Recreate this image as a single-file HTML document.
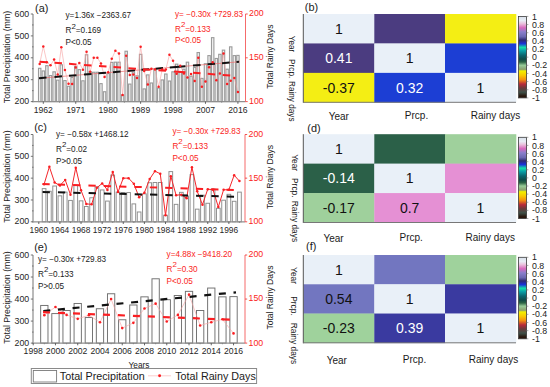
<!DOCTYPE html>
<html><head><meta charset="utf-8"><style>
html,body{margin:0;padding:0;background:#fff;}
body{width:550px;height:387px;overflow:hidden;}
svg{display:block;font-family:"Liberation Sans", sans-serif;}
</style></head><body>
<svg width="550" height="387" viewBox="0 0 550 387">
<rect x="0" y="0" width="550" height="387" fill="#fff"/>
<rect x="38.50" y="68.31" width="2.40" height="33.29" fill="#f2f2f2" stroke="#9a9a9a" stroke-width="1.1"/>
<rect x="42.10" y="70.94" width="2.40" height="30.66" fill="#f2f2f2" stroke="#9a9a9a" stroke-width="1.1"/>
<rect x="45.70" y="65.68" width="2.40" height="35.92" fill="#f2f2f2" stroke="#9a9a9a" stroke-width="1.1"/>
<rect x="49.31" y="75.54" width="2.40" height="26.06" fill="#f2f2f2" stroke="#9a9a9a" stroke-width="1.1"/>
<rect x="52.91" y="71.82" width="2.40" height="29.78" fill="#f2f2f2" stroke="#9a9a9a" stroke-width="1.1"/>
<rect x="56.52" y="80.14" width="2.40" height="21.46" fill="#f2f2f2" stroke="#9a9a9a" stroke-width="1.1"/>
<rect x="60.12" y="64.81" width="2.40" height="36.79" fill="#f2f2f2" stroke="#9a9a9a" stroke-width="1.1"/>
<rect x="63.72" y="80.58" width="2.40" height="21.02" fill="#f2f2f2" stroke="#9a9a9a" stroke-width="1.1"/>
<rect x="67.33" y="86.27" width="2.40" height="15.33" fill="#f2f2f2" stroke="#9a9a9a" stroke-width="1.1"/>
<rect x="70.93" y="77.51" width="2.40" height="24.09" fill="#f2f2f2" stroke="#9a9a9a" stroke-width="1.1"/>
<rect x="74.54" y="66.56" width="2.40" height="35.04" fill="#f2f2f2" stroke="#9a9a9a" stroke-width="1.1"/>
<rect x="78.14" y="69.63" width="2.40" height="31.97" fill="#f2f2f2" stroke="#9a9a9a" stroke-width="1.1"/>
<rect x="81.74" y="80.80" width="2.40" height="20.80" fill="#f2f2f2" stroke="#9a9a9a" stroke-width="1.1"/>
<rect x="85.35" y="54.73" width="2.40" height="46.87" fill="#f2f2f2" stroke="#9a9a9a" stroke-width="1.1"/>
<rect x="88.95" y="71.82" width="2.40" height="29.78" fill="#f2f2f2" stroke="#9a9a9a" stroke-width="1.1"/>
<rect x="92.56" y="72.25" width="2.40" height="29.35" fill="#f2f2f2" stroke="#9a9a9a" stroke-width="1.1"/>
<rect x="96.16" y="72.25" width="2.40" height="29.35" fill="#f2f2f2" stroke="#9a9a9a" stroke-width="1.1"/>
<rect x="99.76" y="83.64" width="2.40" height="17.96" fill="#f2f2f2" stroke="#9a9a9a" stroke-width="1.1"/>
<rect x="103.37" y="91.74" width="2.40" height="9.86" fill="#f2f2f2" stroke="#9a9a9a" stroke-width="1.1"/>
<rect x="106.97" y="73.57" width="2.40" height="28.03" fill="#f2f2f2" stroke="#9a9a9a" stroke-width="1.1"/>
<rect x="110.58" y="62.40" width="2.40" height="39.20" fill="#f2f2f2" stroke="#9a9a9a" stroke-width="1.1"/>
<rect x="114.18" y="62.18" width="2.40" height="39.42" fill="#f2f2f2" stroke="#9a9a9a" stroke-width="1.1"/>
<rect x="117.78" y="62.18" width="2.40" height="39.42" fill="#f2f2f2" stroke="#9a9a9a" stroke-width="1.1"/>
<rect x="121.39" y="95.03" width="2.40" height="6.57" fill="#f2f2f2" stroke="#9a9a9a" stroke-width="1.1"/>
<rect x="124.99" y="51.23" width="2.40" height="50.37" fill="#f2f2f2" stroke="#9a9a9a" stroke-width="1.1"/>
<rect x="128.60" y="84.08" width="2.40" height="17.52" fill="#f2f2f2" stroke="#9a9a9a" stroke-width="1.1"/>
<rect x="132.20" y="72.03" width="2.40" height="29.56" fill="#f2f2f2" stroke="#9a9a9a" stroke-width="1.1"/>
<rect x="135.80" y="75.76" width="2.40" height="25.84" fill="#f2f2f2" stroke="#9a9a9a" stroke-width="1.1"/>
<rect x="139.41" y="54.30" width="2.40" height="47.30" fill="#f2f2f2" stroke="#9a9a9a" stroke-width="1.1"/>
<rect x="143.01" y="88.90" width="2.40" height="12.70" fill="#f2f2f2" stroke="#9a9a9a" stroke-width="1.1"/>
<rect x="146.62" y="74.88" width="2.40" height="26.72" fill="#f2f2f2" stroke="#9a9a9a" stroke-width="1.1"/>
<rect x="150.22" y="82.98" width="2.40" height="18.61" fill="#f2f2f2" stroke="#9a9a9a" stroke-width="1.1"/>
<rect x="153.82" y="68.75" width="2.40" height="32.85" fill="#f2f2f2" stroke="#9a9a9a" stroke-width="1.1"/>
<rect x="157.43" y="88.02" width="2.40" height="13.58" fill="#f2f2f2" stroke="#9a9a9a" stroke-width="1.1"/>
<rect x="161.03" y="79.92" width="2.40" height="21.68" fill="#f2f2f2" stroke="#9a9a9a" stroke-width="1.1"/>
<rect x="164.64" y="74.01" width="2.40" height="27.59" fill="#f2f2f2" stroke="#9a9a9a" stroke-width="1.1"/>
<rect x="168.24" y="81.01" width="2.40" height="20.59" fill="#f2f2f2" stroke="#9a9a9a" stroke-width="1.1"/>
<rect x="171.84" y="71.82" width="2.40" height="29.78" fill="#f2f2f2" stroke="#9a9a9a" stroke-width="1.1"/>
<rect x="175.45" y="64.15" width="2.40" height="37.45" fill="#f2f2f2" stroke="#9a9a9a" stroke-width="1.1"/>
<rect x="179.05" y="72.25" width="2.40" height="29.35" fill="#f2f2f2" stroke="#9a9a9a" stroke-width="1.1"/>
<rect x="182.66" y="69.19" width="2.40" height="32.41" fill="#f2f2f2" stroke="#9a9a9a" stroke-width="1.1"/>
<rect x="186.26" y="62.18" width="2.40" height="39.42" fill="#f2f2f2" stroke="#9a9a9a" stroke-width="1.1"/>
<rect x="189.86" y="76.20" width="2.40" height="25.40" fill="#f2f2f2" stroke="#9a9a9a" stroke-width="1.1"/>
<rect x="193.47" y="67.44" width="2.40" height="34.16" fill="#f2f2f2" stroke="#9a9a9a" stroke-width="1.1"/>
<rect x="197.07" y="52.54" width="2.40" height="49.06" fill="#f2f2f2" stroke="#9a9a9a" stroke-width="1.1"/>
<rect x="200.68" y="78.39" width="2.40" height="23.21" fill="#f2f2f2" stroke="#9a9a9a" stroke-width="1.1"/>
<rect x="204.28" y="63.71" width="2.40" height="37.89" fill="#f2f2f2" stroke="#9a9a9a" stroke-width="1.1"/>
<rect x="207.88" y="55.61" width="2.40" height="45.99" fill="#f2f2f2" stroke="#9a9a9a" stroke-width="1.1"/>
<rect x="211.49" y="37.65" width="2.40" height="63.95" fill="#f2f2f2" stroke="#9a9a9a" stroke-width="1.1"/>
<rect x="215.09" y="58.46" width="2.40" height="43.14" fill="#f2f2f2" stroke="#9a9a9a" stroke-width="1.1"/>
<rect x="218.70" y="54.30" width="2.40" height="47.30" fill="#f2f2f2" stroke="#9a9a9a" stroke-width="1.1"/>
<rect x="222.30" y="50.13" width="2.40" height="51.46" fill="#f2f2f2" stroke="#9a9a9a" stroke-width="1.1"/>
<rect x="225.90" y="69.19" width="2.40" height="32.41" fill="#f2f2f2" stroke="#9a9a9a" stroke-width="1.1"/>
<rect x="229.51" y="46.85" width="2.40" height="54.75" fill="#f2f2f2" stroke="#9a9a9a" stroke-width="1.1"/>
<rect x="233.11" y="55.61" width="2.40" height="45.99" fill="#f2f2f2" stroke="#9a9a9a" stroke-width="1.1"/>
<rect x="236.72" y="55.39" width="2.40" height="46.21" fill="#f2f2f2" stroke="#9a9a9a" stroke-width="1.1"/>
<line x1="39.20" y1="78.30" x2="240.00" y2="61.70" stroke="#f26a6a" stroke-width="0.7" />
<polyline points="39.70,63.93 43.30,46.41 46.90,62.18 50.51,65.25 54.11,59.55 57.72,74.44 61.32,47.29 64.92,70.06 68.53,83.64 72.13,84.08 75.74,67.44 79.34,63.06 82.94,69.63 86.55,51.67 90.15,71.82 93.76,57.80 97.36,57.80 100.96,63.41 104.57,77.07 108.17,72.34 111.78,58.68 115.38,50.79 118.98,53.42 122.59,95.03 126.19,55.79 129.80,74.88 133.40,74.44 137.00,77.95 140.61,46.76 144.21,70.94 147.82,84.43 151.42,68.84 155.02,69.45 158.63,86.71 162.23,69.45 165.84,69.45 169.44,54.82 173.04,60.78 176.65,73.83 180.25,65.68 183.86,73.57 187.46,77.51 191.06,73.92 194.67,80.93 198.27,57.80 201.88,86.71 205.48,81.45 209.08,67.17 212.69,62.36 216.29,80.14 219.90,73.57 223.50,53.42 227.10,84.08 230.71,80.84 234.31,77.95 237.92,91.96" fill="none" stroke="#f7a0a0" stroke-width="0.6"/>
<line x1="39.00" y1="78.23" x2="46.50" y2="77.61" stroke="#111" stroke-width="2.0" />
<line x1="54.50" y1="76.95" x2="62.00" y2="76.33" stroke="#111" stroke-width="2.0" />
<line x1="69.00" y1="75.76" x2="76.50" y2="75.14" stroke="#111" stroke-width="2.0" />
<line x1="84.00" y1="74.52" x2="91.50" y2="73.90" stroke="#111" stroke-width="2.0" />
<line x1="98.50" y1="73.33" x2="106.00" y2="72.71" stroke="#111" stroke-width="2.0" />
<line x1="113.00" y1="72.13" x2="120.50" y2="71.52" stroke="#111" stroke-width="2.0" />
<line x1="127.50" y1="70.94" x2="135.00" y2="70.32" stroke="#111" stroke-width="2.0" />
<line x1="141.50" y1="69.79" x2="149.00" y2="69.17" stroke="#111" stroke-width="2.0" />
<line x1="155.50" y1="68.63" x2="163.00" y2="68.01" stroke="#111" stroke-width="2.0" />
<line x1="169.80" y1="67.45" x2="185.40" y2="66.17" stroke="#111" stroke-width="2.0" />
<line x1="193.00" y1="65.54" x2="200.50" y2="64.92" stroke="#111" stroke-width="2.0" />
<line x1="207.50" y1="64.35" x2="215.00" y2="63.73" stroke="#111" stroke-width="2.0" />
<line x1="222.00" y1="63.15" x2="229.60" y2="62.53" stroke="#111" stroke-width="2.0" />
<line x1="236.50" y1="61.96" x2="239.00" y2="61.75" stroke="#111" stroke-width="2.0" />
<line x1="39.50" y1="61.75" x2="47.00" y2="62.29" stroke="#fa1e22" stroke-width="2.0" />
<line x1="54.50" y1="62.83" x2="62.00" y2="63.37" stroke="#fa1e22" stroke-width="2.0" />
<line x1="69.00" y1="63.87" x2="76.50" y2="64.41" stroke="#fa1e22" stroke-width="2.0" />
<line x1="84.00" y1="64.95" x2="91.50" y2="65.49" stroke="#fa1e22" stroke-width="2.0" />
<line x1="99.00" y1="66.03" x2="106.50" y2="66.57" stroke="#fa1e22" stroke-width="2.0" />
<line x1="113.50" y1="67.08" x2="121.00" y2="67.62" stroke="#fa1e22" stroke-width="2.0" />
<line x1="128.50" y1="68.16" x2="136.00" y2="68.70" stroke="#fa1e22" stroke-width="2.0" />
<line x1="143.00" y1="69.20" x2="150.50" y2="69.74" stroke="#fa1e22" stroke-width="2.0" />
<line x1="158.50" y1="70.32" x2="166.00" y2="70.86" stroke="#fa1e22" stroke-width="2.0" />
<line x1="174.00" y1="71.43" x2="185.40" y2="72.26" stroke="#fa1e22" stroke-width="2.0" />
<line x1="193.00" y1="72.80" x2="200.50" y2="73.34" stroke="#fa1e22" stroke-width="2.0" />
<line x1="207.70" y1="73.86" x2="215.20" y2="74.40" stroke="#fa1e22" stroke-width="2.0" />
<line x1="222.70" y1="74.94" x2="230.20" y2="75.48" stroke="#fa1e22" stroke-width="2.0" />
<circle cx="39.70" cy="63.93" r="1.25" fill="#fa1e22"/>
<circle cx="43.30" cy="46.41" r="1.25" fill="#fa1e22"/>
<circle cx="46.90" cy="62.18" r="1.25" fill="#fa1e22"/>
<circle cx="50.51" cy="65.25" r="1.25" fill="#fa1e22"/>
<circle cx="54.11" cy="59.55" r="1.25" fill="#fa1e22"/>
<circle cx="57.72" cy="74.44" r="1.25" fill="#fa1e22"/>
<circle cx="61.32" cy="47.29" r="1.25" fill="#fa1e22"/>
<circle cx="64.92" cy="70.06" r="1.25" fill="#fa1e22"/>
<circle cx="68.53" cy="83.64" r="1.25" fill="#fa1e22"/>
<circle cx="72.13" cy="84.08" r="1.25" fill="#fa1e22"/>
<circle cx="75.74" cy="67.44" r="1.25" fill="#fa1e22"/>
<circle cx="79.34" cy="63.06" r="1.25" fill="#fa1e22"/>
<circle cx="82.94" cy="69.63" r="1.25" fill="#fa1e22"/>
<circle cx="86.55" cy="51.67" r="1.25" fill="#fa1e22"/>
<circle cx="90.15" cy="71.82" r="1.25" fill="#fa1e22"/>
<circle cx="93.76" cy="57.80" r="1.25" fill="#fa1e22"/>
<circle cx="97.36" cy="57.80" r="1.25" fill="#fa1e22"/>
<circle cx="100.96" cy="63.41" r="1.25" fill="#fa1e22"/>
<circle cx="104.57" cy="77.07" r="1.25" fill="#fa1e22"/>
<circle cx="108.17" cy="72.34" r="1.25" fill="#fa1e22"/>
<circle cx="111.78" cy="58.68" r="1.25" fill="#fa1e22"/>
<circle cx="115.38" cy="50.79" r="1.25" fill="#fa1e22"/>
<circle cx="118.98" cy="53.42" r="1.25" fill="#fa1e22"/>
<circle cx="122.59" cy="95.03" r="1.25" fill="#fa1e22"/>
<circle cx="126.19" cy="55.79" r="1.25" fill="#fa1e22"/>
<circle cx="129.80" cy="74.88" r="1.25" fill="#fa1e22"/>
<circle cx="133.40" cy="74.44" r="1.25" fill="#fa1e22"/>
<circle cx="137.00" cy="77.95" r="1.25" fill="#fa1e22"/>
<circle cx="140.61" cy="46.76" r="1.25" fill="#fa1e22"/>
<circle cx="144.21" cy="70.94" r="1.25" fill="#fa1e22"/>
<circle cx="147.82" cy="84.43" r="1.25" fill="#fa1e22"/>
<circle cx="151.42" cy="68.84" r="1.25" fill="#fa1e22"/>
<circle cx="155.02" cy="69.45" r="1.25" fill="#fa1e22"/>
<circle cx="158.63" cy="86.71" r="1.25" fill="#fa1e22"/>
<circle cx="162.23" cy="69.45" r="1.25" fill="#fa1e22"/>
<circle cx="165.84" cy="69.45" r="1.25" fill="#fa1e22"/>
<circle cx="169.44" cy="54.82" r="1.25" fill="#fa1e22"/>
<circle cx="173.04" cy="60.78" r="1.25" fill="#fa1e22"/>
<circle cx="176.65" cy="73.83" r="1.25" fill="#fa1e22"/>
<circle cx="180.25" cy="65.68" r="1.25" fill="#fa1e22"/>
<circle cx="183.86" cy="73.57" r="1.25" fill="#fa1e22"/>
<circle cx="187.46" cy="77.51" r="1.25" fill="#fa1e22"/>
<circle cx="191.06" cy="73.92" r="1.25" fill="#fa1e22"/>
<circle cx="194.67" cy="80.93" r="1.25" fill="#fa1e22"/>
<circle cx="198.27" cy="57.80" r="1.25" fill="#fa1e22"/>
<circle cx="201.88" cy="86.71" r="1.25" fill="#fa1e22"/>
<circle cx="205.48" cy="81.45" r="1.25" fill="#fa1e22"/>
<circle cx="209.08" cy="67.17" r="1.25" fill="#fa1e22"/>
<circle cx="212.69" cy="62.36" r="1.25" fill="#fa1e22"/>
<circle cx="216.29" cy="80.14" r="1.25" fill="#fa1e22"/>
<circle cx="219.90" cy="73.57" r="1.25" fill="#fa1e22"/>
<circle cx="223.50" cy="53.42" r="1.25" fill="#fa1e22"/>
<circle cx="227.10" cy="84.08" r="1.25" fill="#fa1e22"/>
<circle cx="230.71" cy="80.84" r="1.25" fill="#fa1e22"/>
<circle cx="234.31" cy="77.95" r="1.25" fill="#fa1e22"/>
<circle cx="237.92" cy="91.96" r="1.25" fill="#fa1e22"/>
<line x1="33.00" y1="14.00" x2="33.00" y2="102.20" stroke="#959595" stroke-width="1.3" />
<line x1="32.40" y1="101.60" x2="245.50" y2="101.60" stroke="#8f8f8f" stroke-width="1.2" />
<line x1="245.50" y1="14.00" x2="245.50" y2="101.60" stroke="#f45a5a" stroke-width="0.9" />
<line x1="30.80" y1="14.00" x2="33.00" y2="14.00" stroke="#666" stroke-width="0.9" />
<text x="29.20" y="16.60" font-size="8.8" fill="#262626" text-anchor="end" >600</text>
<line x1="30.80" y1="35.90" x2="33.00" y2="35.90" stroke="#666" stroke-width="0.9" />
<text x="29.20" y="38.50" font-size="8.8" fill="#262626" text-anchor="end" >500</text>
<line x1="30.80" y1="57.80" x2="33.00" y2="57.80" stroke="#666" stroke-width="0.9" />
<text x="29.20" y="60.40" font-size="8.8" fill="#262626" text-anchor="end" >400</text>
<line x1="30.80" y1="79.70" x2="33.00" y2="79.70" stroke="#666" stroke-width="0.9" />
<text x="29.20" y="82.30" font-size="8.8" fill="#262626" text-anchor="end" >300</text>
<line x1="30.80" y1="101.60" x2="33.00" y2="101.60" stroke="#666" stroke-width="0.9" />
<text x="29.20" y="104.20" font-size="8.8" fill="#262626" text-anchor="end" >200</text>
<line x1="32.00" y1="24.95" x2="33.50" y2="24.95" stroke="#666" stroke-width="0.8" />
<line x1="32.00" y1="46.85" x2="33.50" y2="46.85" stroke="#666" stroke-width="0.8" />
<line x1="32.00" y1="68.75" x2="33.50" y2="68.75" stroke="#666" stroke-width="0.8" />
<line x1="32.00" y1="90.65" x2="33.50" y2="90.65" stroke="#666" stroke-width="0.8" />
<line x1="245.50" y1="14.00" x2="247.70" y2="14.00" stroke="#f44040" stroke-width="0.9" />
<text x="249.10" y="16.40" font-size="8.75" fill="#fa1e22" text-anchor="start" >200</text>
<line x1="245.50" y1="57.80" x2="247.70" y2="57.80" stroke="#f44040" stroke-width="0.9" />
<text x="249.10" y="60.20" font-size="8.75" fill="#fa1e22" text-anchor="start" >150</text>
<line x1="245.50" y1="101.60" x2="247.70" y2="101.60" stroke="#f44040" stroke-width="0.9" />
<text x="249.10" y="104.00" font-size="8.75" fill="#fa1e22" text-anchor="start" >100</text>
<line x1="43.30" y1="101.60" x2="43.30" y2="103.80" stroke="#555" stroke-width="0.9" />
<text x="43.30" y="112.50" font-size="8.6" fill="#262626" text-anchor="middle" >1962</text>
<line x1="75.74" y1="101.60" x2="75.74" y2="103.80" stroke="#555" stroke-width="0.9" />
<text x="75.74" y="112.50" font-size="8.6" fill="#262626" text-anchor="middle" >1971</text>
<line x1="108.17" y1="101.60" x2="108.17" y2="103.80" stroke="#555" stroke-width="0.9" />
<text x="108.17" y="112.50" font-size="8.6" fill="#262626" text-anchor="middle" >1980</text>
<line x1="140.61" y1="101.60" x2="140.61" y2="103.80" stroke="#555" stroke-width="0.9" />
<text x="140.61" y="112.50" font-size="8.6" fill="#262626" text-anchor="middle" >1989</text>
<line x1="173.04" y1="101.60" x2="173.04" y2="103.80" stroke="#555" stroke-width="0.9" />
<text x="173.04" y="112.50" font-size="8.6" fill="#262626" text-anchor="middle" >1998</text>
<line x1="205.48" y1="101.60" x2="205.48" y2="103.80" stroke="#555" stroke-width="0.9" />
<text x="205.48" y="112.50" font-size="8.6" fill="#262626" text-anchor="middle" >2007</text>
<line x1="237.92" y1="101.60" x2="237.92" y2="103.80" stroke="#555" stroke-width="0.9" />
<text x="237.92" y="112.50" font-size="8.6" fill="#262626" text-anchor="middle" >2016</text>
<line x1="59.52" y1="101.60" x2="59.52" y2="102.80" stroke="#777" stroke-width="0.7" />
<line x1="91.95" y1="101.60" x2="91.95" y2="102.80" stroke="#777" stroke-width="0.7" />
<line x1="124.39" y1="101.60" x2="124.39" y2="102.80" stroke="#777" stroke-width="0.7" />
<line x1="156.83" y1="101.60" x2="156.83" y2="102.80" stroke="#777" stroke-width="0.7" />
<line x1="189.26" y1="101.60" x2="189.26" y2="102.80" stroke="#777" stroke-width="0.7" />
<line x1="221.70" y1="101.60" x2="221.70" y2="102.80" stroke="#777" stroke-width="0.7" />
<text x="35.00" y="11.80" font-size="10.9" fill="#1a1a1a" text-anchor="start" >(a)</text>
<text x="0.00" y="0.00" font-size="8.8" fill="#222" text-anchor="middle" transform="translate(9.90,57.00) rotate(-90)">Total Precipitation (mm)</text>
<text x="0.00" y="0.00" font-size="8.55" fill="#222" text-anchor="middle" transform="translate(272.80,56.60) rotate(-90)">Total Rainy Days</text>
<text x="65.50" y="17.70" font-size="8.2" fill="#1a1a1a" text-anchor="start" >y=1.36x −2363.67</text>
<text x="65.50" y="33.30" font-size="8.2" fill="#1a1a1a" text-anchor="start" >R<tspan dy="-4.8" font-size="7.9">2</tspan><tspan dy="4.8">=0.169</tspan></text>
<text x="65.50" y="44.90" font-size="8.2" fill="#1a1a1a" text-anchor="start" >P&lt;0.05</text>
<text x="175.00" y="16.80" font-size="8.2" fill="#fa1e22" text-anchor="start" >y= −0.30x +729.83</text>
<text x="175.00" y="31.90" font-size="8.2" fill="#fa1e22" text-anchor="start" >R<tspan dy="-4.8" font-size="7.9">2</tspan><tspan dy="4.8">=0.133</tspan></text>
<text x="175.00" y="43.20" font-size="8.2" fill="#fa1e22" text-anchor="start" >P&lt;0.05</text>
<rect x="42.23" y="188.63" width="3.70" height="33.17" fill="#ffffff" stroke="#8c8c8c" stroke-width="0.95"/>
<rect x="47.51" y="191.25" width="3.70" height="30.56" fill="#ffffff" stroke="#8c8c8c" stroke-width="0.95"/>
<rect x="52.79" y="186.01" width="3.70" height="35.79" fill="#ffffff" stroke="#8c8c8c" stroke-width="0.95"/>
<rect x="58.07" y="195.83" width="3.70" height="25.97" fill="#ffffff" stroke="#8c8c8c" stroke-width="0.95"/>
<rect x="63.35" y="192.12" width="3.70" height="29.68" fill="#ffffff" stroke="#8c8c8c" stroke-width="0.95"/>
<rect x="68.63" y="200.41" width="3.70" height="21.39" fill="#ffffff" stroke="#8c8c8c" stroke-width="0.95"/>
<rect x="73.91" y="185.13" width="3.70" height="36.67" fill="#ffffff" stroke="#8c8c8c" stroke-width="0.95"/>
<rect x="79.19" y="200.85" width="3.70" height="20.95" fill="#ffffff" stroke="#8c8c8c" stroke-width="0.95"/>
<rect x="84.47" y="206.52" width="3.70" height="15.28" fill="#ffffff" stroke="#8c8c8c" stroke-width="0.95"/>
<rect x="89.75" y="197.79" width="3.70" height="24.01" fill="#ffffff" stroke="#8c8c8c" stroke-width="0.95"/>
<rect x="95.03" y="186.88" width="3.70" height="34.92" fill="#ffffff" stroke="#8c8c8c" stroke-width="0.95"/>
<rect x="100.31" y="189.94" width="3.70" height="31.86" fill="#ffffff" stroke="#8c8c8c" stroke-width="0.95"/>
<rect x="105.59" y="201.07" width="3.70" height="20.73" fill="#ffffff" stroke="#8c8c8c" stroke-width="0.95"/>
<rect x="110.87" y="175.09" width="3.70" height="46.71" fill="#ffffff" stroke="#8c8c8c" stroke-width="0.95"/>
<rect x="116.15" y="192.12" width="3.70" height="29.68" fill="#ffffff" stroke="#8c8c8c" stroke-width="0.95"/>
<rect x="121.43" y="192.55" width="3.70" height="29.25" fill="#ffffff" stroke="#8c8c8c" stroke-width="0.95"/>
<rect x="126.71" y="192.55" width="3.70" height="29.25" fill="#ffffff" stroke="#8c8c8c" stroke-width="0.95"/>
<rect x="131.99" y="203.90" width="3.70" height="17.90" fill="#ffffff" stroke="#8c8c8c" stroke-width="0.95"/>
<rect x="137.27" y="211.98" width="3.70" height="9.82" fill="#ffffff" stroke="#8c8c8c" stroke-width="0.95"/>
<rect x="142.55" y="193.86" width="3.70" height="27.94" fill="#ffffff" stroke="#8c8c8c" stroke-width="0.95"/>
<rect x="147.83" y="182.73" width="3.70" height="39.07" fill="#ffffff" stroke="#8c8c8c" stroke-width="0.95"/>
<rect x="153.11" y="182.52" width="3.70" height="39.28" fill="#ffffff" stroke="#8c8c8c" stroke-width="0.95"/>
<rect x="158.39" y="182.52" width="3.70" height="39.28" fill="#ffffff" stroke="#8c8c8c" stroke-width="0.95"/>
<rect x="163.67" y="215.25" width="3.70" height="6.55" fill="#ffffff" stroke="#8c8c8c" stroke-width="0.95"/>
<rect x="168.95" y="171.60" width="3.70" height="50.20" fill="#ffffff" stroke="#8c8c8c" stroke-width="0.95"/>
<rect x="174.23" y="204.34" width="3.70" height="17.46" fill="#ffffff" stroke="#8c8c8c" stroke-width="0.95"/>
<rect x="179.51" y="192.34" width="3.70" height="29.46" fill="#ffffff" stroke="#8c8c8c" stroke-width="0.95"/>
<rect x="184.79" y="196.05" width="3.70" height="25.75" fill="#ffffff" stroke="#8c8c8c" stroke-width="0.95"/>
<rect x="190.07" y="174.66" width="3.70" height="47.14" fill="#ffffff" stroke="#8c8c8c" stroke-width="0.95"/>
<rect x="195.35" y="209.14" width="3.70" height="12.66" fill="#ffffff" stroke="#8c8c8c" stroke-width="0.95"/>
<rect x="200.63" y="195.17" width="3.70" height="26.63" fill="#ffffff" stroke="#8c8c8c" stroke-width="0.95"/>
<rect x="205.91" y="203.25" width="3.70" height="18.55" fill="#ffffff" stroke="#8c8c8c" stroke-width="0.95"/>
<rect x="211.19" y="189.06" width="3.70" height="32.74" fill="#ffffff" stroke="#8c8c8c" stroke-width="0.95"/>
<rect x="216.47" y="208.27" width="3.70" height="13.53" fill="#ffffff" stroke="#8c8c8c" stroke-width="0.95"/>
<rect x="221.75" y="200.19" width="3.70" height="21.61" fill="#ffffff" stroke="#8c8c8c" stroke-width="0.95"/>
<rect x="227.03" y="194.30" width="3.70" height="27.50" fill="#ffffff" stroke="#8c8c8c" stroke-width="0.95"/>
<rect x="232.31" y="201.28" width="3.70" height="20.52" fill="#ffffff" stroke="#8c8c8c" stroke-width="0.95"/>
<rect x="237.59" y="192.12" width="3.70" height="29.68" fill="#ffffff" stroke="#8c8c8c" stroke-width="0.95"/>
<polyline points="44.08,184.26 49.36,166.80 54.64,182.52 59.92,185.57 65.20,179.90 70.48,194.74 75.76,167.67 81.04,190.37 86.32,203.90 91.60,204.34 96.88,187.75 102.16,183.39 107.44,189.94 112.72,172.04 118.00,192.12 123.28,178.15 128.56,178.15 133.84,183.74 139.12,197.36 144.40,192.64 149.68,179.02 154.96,171.17 160.24,173.78 165.52,215.25 170.80,176.14 176.08,195.17 181.36,194.74 186.64,198.23 191.92,167.15 197.20,191.25 202.48,204.69 207.76,189.15 213.04,189.76 218.32,206.96 223.60,189.76 228.88,189.76 234.16,175.18 239.44,181.12" fill="none" stroke="#f4262b" stroke-width="1.0"/>
<line x1="42.60" y1="192.00" x2="236.50" y2="196.70" stroke="#111" stroke-width="2.0" stroke-dasharray="7.3,8.05"/>
<line x1="42.40" y1="184.00" x2="236.50" y2="190.10" stroke="#fa1e22" stroke-width="2.0" stroke-dasharray="7.3,8.05"/>
<circle cx="44.08" cy="184.26" r="1.25" fill="#fa1e22"/>
<circle cx="49.36" cy="166.80" r="1.25" fill="#fa1e22"/>
<circle cx="54.64" cy="182.52" r="1.25" fill="#fa1e22"/>
<circle cx="59.92" cy="185.57" r="1.25" fill="#fa1e22"/>
<circle cx="65.20" cy="179.90" r="1.25" fill="#fa1e22"/>
<circle cx="70.48" cy="194.74" r="1.25" fill="#fa1e22"/>
<circle cx="75.76" cy="167.67" r="1.25" fill="#fa1e22"/>
<circle cx="81.04" cy="190.37" r="1.25" fill="#fa1e22"/>
<circle cx="86.32" cy="203.90" r="1.25" fill="#fa1e22"/>
<circle cx="91.60" cy="204.34" r="1.25" fill="#fa1e22"/>
<circle cx="96.88" cy="187.75" r="1.25" fill="#fa1e22"/>
<circle cx="102.16" cy="183.39" r="1.25" fill="#fa1e22"/>
<circle cx="107.44" cy="189.94" r="1.25" fill="#fa1e22"/>
<circle cx="112.72" cy="172.04" r="1.25" fill="#fa1e22"/>
<circle cx="118.00" cy="192.12" r="1.25" fill="#fa1e22"/>
<circle cx="123.28" cy="178.15" r="1.25" fill="#fa1e22"/>
<circle cx="128.56" cy="178.15" r="1.25" fill="#fa1e22"/>
<circle cx="133.84" cy="183.74" r="1.25" fill="#fa1e22"/>
<circle cx="139.12" cy="197.36" r="1.25" fill="#fa1e22"/>
<circle cx="144.40" cy="192.64" r="1.25" fill="#fa1e22"/>
<circle cx="149.68" cy="179.02" r="1.25" fill="#fa1e22"/>
<circle cx="154.96" cy="171.17" r="1.25" fill="#fa1e22"/>
<circle cx="160.24" cy="173.78" r="1.25" fill="#fa1e22"/>
<circle cx="165.52" cy="215.25" r="1.25" fill="#fa1e22"/>
<circle cx="170.80" cy="176.14" r="1.25" fill="#fa1e22"/>
<circle cx="176.08" cy="195.17" r="1.25" fill="#fa1e22"/>
<circle cx="181.36" cy="194.74" r="1.25" fill="#fa1e22"/>
<circle cx="186.64" cy="198.23" r="1.25" fill="#fa1e22"/>
<circle cx="191.92" cy="167.15" r="1.25" fill="#fa1e22"/>
<circle cx="197.20" cy="191.25" r="1.25" fill="#fa1e22"/>
<circle cx="202.48" cy="204.69" r="1.25" fill="#fa1e22"/>
<circle cx="207.76" cy="189.15" r="1.25" fill="#fa1e22"/>
<circle cx="213.04" cy="189.76" r="1.25" fill="#fa1e22"/>
<circle cx="218.32" cy="206.96" r="1.25" fill="#fa1e22"/>
<circle cx="223.60" cy="189.76" r="1.25" fill="#fa1e22"/>
<circle cx="228.88" cy="189.76" r="1.25" fill="#fa1e22"/>
<circle cx="234.16" cy="175.18" r="1.25" fill="#fa1e22"/>
<circle cx="239.44" cy="181.12" r="1.25" fill="#fa1e22"/>
<line x1="33.00" y1="134.50" x2="33.00" y2="222.40" stroke="#959595" stroke-width="1.3" />
<line x1="32.40" y1="221.80" x2="245.00" y2="221.80" stroke="#8f8f8f" stroke-width="1.2" />
<line x1="245.00" y1="134.50" x2="245.00" y2="221.80" stroke="#f45a5a" stroke-width="0.9" />
<line x1="30.80" y1="134.50" x2="33.00" y2="134.50" stroke="#666" stroke-width="0.9" />
<text x="29.20" y="137.10" font-size="8.8" fill="#262626" text-anchor="end" >600</text>
<line x1="30.80" y1="156.32" x2="33.00" y2="156.32" stroke="#666" stroke-width="0.9" />
<text x="29.20" y="158.92" font-size="8.8" fill="#262626" text-anchor="end" >500</text>
<line x1="30.80" y1="178.15" x2="33.00" y2="178.15" stroke="#666" stroke-width="0.9" />
<text x="29.20" y="180.75" font-size="8.8" fill="#262626" text-anchor="end" >400</text>
<line x1="30.80" y1="199.98" x2="33.00" y2="199.98" stroke="#666" stroke-width="0.9" />
<text x="29.20" y="202.58" font-size="8.8" fill="#262626" text-anchor="end" >300</text>
<line x1="30.80" y1="221.80" x2="33.00" y2="221.80" stroke="#666" stroke-width="0.9" />
<text x="29.20" y="224.40" font-size="8.8" fill="#262626" text-anchor="end" >200</text>
<line x1="32.00" y1="145.41" x2="33.50" y2="145.41" stroke="#666" stroke-width="0.8" />
<line x1="32.00" y1="167.24" x2="33.50" y2="167.24" stroke="#666" stroke-width="0.8" />
<line x1="32.00" y1="189.06" x2="33.50" y2="189.06" stroke="#666" stroke-width="0.8" />
<line x1="32.00" y1="210.89" x2="33.50" y2="210.89" stroke="#666" stroke-width="0.8" />
<line x1="245.00" y1="134.50" x2="247.20" y2="134.50" stroke="#f44040" stroke-width="0.9" />
<text x="248.60" y="136.90" font-size="8.75" fill="#fa1e22" text-anchor="start" >200</text>
<line x1="245.00" y1="178.15" x2="247.20" y2="178.15" stroke="#f44040" stroke-width="0.9" />
<text x="248.60" y="180.55" font-size="8.75" fill="#fa1e22" text-anchor="start" >150</text>
<line x1="245.00" y1="221.80" x2="247.20" y2="221.80" stroke="#f44040" stroke-width="0.9" />
<text x="248.60" y="224.20" font-size="8.75" fill="#fa1e22" text-anchor="start" >100</text>
<line x1="38.80" y1="221.80" x2="38.80" y2="224.00" stroke="#555" stroke-width="0.9" />
<text x="38.80" y="232.80" font-size="8.4" fill="#262626" text-anchor="middle" >1960</text>
<line x1="59.92" y1="221.80" x2="59.92" y2="224.00" stroke="#555" stroke-width="0.9" />
<text x="59.92" y="232.80" font-size="8.4" fill="#262626" text-anchor="middle" >1964</text>
<line x1="81.04" y1="221.80" x2="81.04" y2="224.00" stroke="#555" stroke-width="0.9" />
<text x="81.04" y="232.80" font-size="8.4" fill="#262626" text-anchor="middle" >1968</text>
<line x1="102.16" y1="221.80" x2="102.16" y2="224.00" stroke="#555" stroke-width="0.9" />
<text x="102.16" y="232.80" font-size="8.4" fill="#262626" text-anchor="middle" >1972</text>
<line x1="123.28" y1="221.80" x2="123.28" y2="224.00" stroke="#555" stroke-width="0.9" />
<text x="123.28" y="232.80" font-size="8.4" fill="#262626" text-anchor="middle" >1976</text>
<line x1="144.40" y1="221.80" x2="144.40" y2="224.00" stroke="#555" stroke-width="0.9" />
<text x="144.40" y="232.80" font-size="8.4" fill="#262626" text-anchor="middle" >1980</text>
<line x1="165.52" y1="221.80" x2="165.52" y2="224.00" stroke="#555" stroke-width="0.9" />
<text x="165.52" y="232.80" font-size="8.4" fill="#262626" text-anchor="middle" >1984</text>
<line x1="186.64" y1="221.80" x2="186.64" y2="224.00" stroke="#555" stroke-width="0.9" />
<text x="186.64" y="232.80" font-size="8.4" fill="#262626" text-anchor="middle" >1988</text>
<line x1="207.76" y1="221.80" x2="207.76" y2="224.00" stroke="#555" stroke-width="0.9" />
<text x="207.76" y="232.80" font-size="8.4" fill="#262626" text-anchor="middle" >1992</text>
<line x1="228.88" y1="221.80" x2="228.88" y2="224.00" stroke="#555" stroke-width="0.9" />
<text x="228.88" y="232.80" font-size="8.4" fill="#262626" text-anchor="middle" >1996</text>
<line x1="49.36" y1="221.80" x2="49.36" y2="223.00" stroke="#777" stroke-width="0.7" />
<line x1="70.48" y1="221.80" x2="70.48" y2="223.00" stroke="#777" stroke-width="0.7" />
<line x1="91.60" y1="221.80" x2="91.60" y2="223.00" stroke="#777" stroke-width="0.7" />
<line x1="112.72" y1="221.80" x2="112.72" y2="223.00" stroke="#777" stroke-width="0.7" />
<line x1="133.84" y1="221.80" x2="133.84" y2="223.00" stroke="#777" stroke-width="0.7" />
<line x1="154.96" y1="221.80" x2="154.96" y2="223.00" stroke="#777" stroke-width="0.7" />
<line x1="176.08" y1="221.80" x2="176.08" y2="223.00" stroke="#777" stroke-width="0.7" />
<line x1="197.20" y1="221.80" x2="197.20" y2="223.00" stroke="#777" stroke-width="0.7" />
<line x1="218.32" y1="221.80" x2="218.32" y2="223.00" stroke="#777" stroke-width="0.7" />
<line x1="239.44" y1="221.80" x2="239.44" y2="223.00" stroke="#777" stroke-width="0.7" />
<text x="34.20" y="130.60" font-size="10.9" fill="#1a1a1a" text-anchor="start" >(c)</text>
<text x="0.00" y="0.00" font-size="8.8" fill="#222" text-anchor="middle" transform="translate(9.90,176.60) rotate(-90)">Total Precipitation (mm)</text>
<text x="0.00" y="0.00" font-size="8.55" fill="#222" text-anchor="middle" transform="translate(272.80,177.00) rotate(-90)">Total Rainy Days</text>
<text x="56.00" y="136.90" font-size="8.2" fill="#1a1a1a" text-anchor="start" >y= −0.58x +1468.12</text>
<text x="56.00" y="152.00" font-size="8.2" fill="#1a1a1a" text-anchor="start" >R<tspan dy="-4.8" font-size="7.9">2</tspan><tspan dy="4.8">=0.02</tspan></text>
<text x="56.00" y="163.60" font-size="8.2" fill="#1a1a1a" text-anchor="start" >P&gt;0.05</text>
<text x="172.40" y="134.10" font-size="8.2" fill="#fa1e22" text-anchor="start" >y= −0.30x +729.83</text>
<text x="172.40" y="148.60" font-size="8.2" fill="#fa1e22" text-anchor="start" >R<tspan dy="-4.8" font-size="7.9">2</tspan><tspan dy="4.8">=0.133</tspan></text>
<text x="172.40" y="161.00" font-size="8.2" fill="#fa1e22" text-anchor="start" >P&lt;0.05</text>
<rect x="40.68" y="305.44" width="7.30" height="37.66" fill="#ffffff" stroke="#6e6e6e" stroke-width="0.95"/>
<rect x="51.81" y="313.59" width="7.30" height="29.51" fill="#ffffff" stroke="#6e6e6e" stroke-width="0.95"/>
<rect x="62.94" y="310.50" width="7.30" height="32.60" fill="#ffffff" stroke="#6e6e6e" stroke-width="0.95"/>
<rect x="74.07" y="303.46" width="7.30" height="39.64" fill="#ffffff" stroke="#6e6e6e" stroke-width="0.95"/>
<rect x="85.20" y="317.55" width="7.30" height="25.55" fill="#ffffff" stroke="#6e6e6e" stroke-width="0.95"/>
<rect x="96.33" y="308.74" width="7.30" height="34.36" fill="#ffffff" stroke="#6e6e6e" stroke-width="0.95"/>
<rect x="107.46" y="293.76" width="7.30" height="49.34" fill="#ffffff" stroke="#6e6e6e" stroke-width="0.95"/>
<rect x="118.59" y="319.75" width="7.30" height="23.35" fill="#ffffff" stroke="#6e6e6e" stroke-width="0.95"/>
<rect x="129.72" y="305.00" width="7.30" height="38.10" fill="#ffffff" stroke="#6e6e6e" stroke-width="0.95"/>
<rect x="140.85" y="296.85" width="7.30" height="46.25" fill="#ffffff" stroke="#6e6e6e" stroke-width="0.95"/>
<rect x="151.98" y="278.79" width="7.30" height="64.31" fill="#ffffff" stroke="#6e6e6e" stroke-width="0.95"/>
<rect x="163.11" y="299.71" width="7.30" height="43.39" fill="#ffffff" stroke="#6e6e6e" stroke-width="0.95"/>
<rect x="174.24" y="295.53" width="7.30" height="47.57" fill="#ffffff" stroke="#6e6e6e" stroke-width="0.95"/>
<rect x="185.37" y="291.34" width="7.30" height="51.76" fill="#ffffff" stroke="#6e6e6e" stroke-width="0.95"/>
<rect x="196.50" y="310.50" width="7.30" height="32.60" fill="#ffffff" stroke="#6e6e6e" stroke-width="0.95"/>
<rect x="207.63" y="288.04" width="7.30" height="55.06" fill="#ffffff" stroke="#6e6e6e" stroke-width="0.95"/>
<rect x="218.76" y="296.85" width="7.30" height="46.25" fill="#ffffff" stroke="#6e6e6e" stroke-width="0.95"/>
<rect x="229.89" y="296.63" width="7.30" height="46.47" fill="#ffffff" stroke="#6e6e6e" stroke-width="0.95"/>
<polyline points="44.33,315.17 55.46,306.98 66.59,314.91 77.72,318.87 88.85,315.26 99.98,322.31 111.11,299.05 122.24,328.12 133.37,322.84 144.50,308.48 155.63,303.63 166.76,321.52 177.89,314.91 189.02,294.64 200.15,325.48 211.28,322.22 222.41,319.31 233.54,333.41" fill="none" stroke="#f7a0a0" stroke-width="0.6"/>
<line x1="43.30" y1="311.00" x2="236.00" y2="292.30" stroke="#111" stroke-width="2.2" stroke-dasharray="7,7.7"/>
<line x1="43.00" y1="312.20" x2="233.00" y2="319.80" stroke="#fa1e22" stroke-width="2.2" stroke-dasharray="7,8"/>
<circle cx="44.33" cy="315.17" r="1.3" fill="#fa1e22"/>
<circle cx="55.46" cy="306.98" r="1.3" fill="#fa1e22"/>
<circle cx="66.59" cy="314.91" r="1.3" fill="#fa1e22"/>
<circle cx="77.72" cy="318.87" r="1.3" fill="#fa1e22"/>
<circle cx="88.85" cy="315.26" r="1.3" fill="#fa1e22"/>
<circle cx="99.98" cy="322.31" r="1.3" fill="#fa1e22"/>
<circle cx="111.11" cy="299.05" r="1.3" fill="#fa1e22"/>
<circle cx="122.24" cy="328.12" r="1.3" fill="#fa1e22"/>
<circle cx="133.37" cy="322.84" r="1.3" fill="#fa1e22"/>
<circle cx="144.50" cy="308.48" r="1.3" fill="#fa1e22"/>
<circle cx="155.63" cy="303.63" r="1.3" fill="#fa1e22"/>
<circle cx="166.76" cy="321.52" r="1.3" fill="#fa1e22"/>
<circle cx="177.89" cy="314.91" r="1.3" fill="#fa1e22"/>
<circle cx="189.02" cy="294.64" r="1.3" fill="#fa1e22"/>
<circle cx="200.15" cy="325.48" r="1.3" fill="#fa1e22"/>
<circle cx="211.28" cy="322.22" r="1.3" fill="#fa1e22"/>
<circle cx="222.41" cy="319.31" r="1.3" fill="#fa1e22"/>
<circle cx="233.54" cy="333.41" r="1.3" fill="#fa1e22"/>
<line x1="33.00" y1="255.00" x2="33.00" y2="343.70" stroke="#959595" stroke-width="1.3" />
<line x1="32.40" y1="343.10" x2="245.00" y2="343.10" stroke="#8f8f8f" stroke-width="1.2" />
<line x1="245.00" y1="255.00" x2="245.00" y2="343.10" stroke="#f45a5a" stroke-width="0.9" />
<line x1="30.80" y1="255.00" x2="33.00" y2="255.00" stroke="#666" stroke-width="0.9" />
<text x="29.20" y="257.60" font-size="8.8" fill="#262626" text-anchor="end" >600</text>
<line x1="30.80" y1="277.02" x2="33.00" y2="277.02" stroke="#666" stroke-width="0.9" />
<text x="29.20" y="279.62" font-size="8.8" fill="#262626" text-anchor="end" >500</text>
<line x1="30.80" y1="299.05" x2="33.00" y2="299.05" stroke="#666" stroke-width="0.9" />
<text x="29.20" y="301.65" font-size="8.8" fill="#262626" text-anchor="end" >400</text>
<line x1="30.80" y1="321.08" x2="33.00" y2="321.08" stroke="#666" stroke-width="0.9" />
<text x="29.20" y="323.68" font-size="8.8" fill="#262626" text-anchor="end" >300</text>
<line x1="30.80" y1="343.10" x2="33.00" y2="343.10" stroke="#666" stroke-width="0.9" />
<text x="29.20" y="345.70" font-size="8.8" fill="#262626" text-anchor="end" >200</text>
<line x1="32.00" y1="266.01" x2="33.50" y2="266.01" stroke="#666" stroke-width="0.8" />
<line x1="32.00" y1="288.04" x2="33.50" y2="288.04" stroke="#666" stroke-width="0.8" />
<line x1="32.00" y1="310.06" x2="33.50" y2="310.06" stroke="#666" stroke-width="0.8" />
<line x1="32.00" y1="332.09" x2="33.50" y2="332.09" stroke="#666" stroke-width="0.8" />
<line x1="245.00" y1="255.00" x2="247.20" y2="255.00" stroke="#f44040" stroke-width="0.9" />
<text x="248.60" y="257.40" font-size="8.75" fill="#fa1e22" text-anchor="start" >200</text>
<line x1="245.00" y1="299.05" x2="247.20" y2="299.05" stroke="#f44040" stroke-width="0.9" />
<text x="248.60" y="301.45" font-size="8.75" fill="#fa1e22" text-anchor="start" >150</text>
<line x1="245.00" y1="343.10" x2="247.20" y2="343.10" stroke="#f44040" stroke-width="0.9" />
<text x="248.60" y="345.50" font-size="8.75" fill="#fa1e22" text-anchor="start" >100</text>
<line x1="33.20" y1="343.10" x2="33.20" y2="345.30" stroke="#555" stroke-width="0.9" />
<text x="33.20" y="354.00" font-size="8.65" fill="#262626" text-anchor="middle" >1998</text>
<line x1="55.46" y1="343.10" x2="55.46" y2="345.30" stroke="#555" stroke-width="0.9" />
<text x="55.46" y="354.00" font-size="8.65" fill="#262626" text-anchor="middle" >2000</text>
<line x1="77.72" y1="343.10" x2="77.72" y2="345.30" stroke="#555" stroke-width="0.9" />
<text x="77.72" y="354.00" font-size="8.65" fill="#262626" text-anchor="middle" >2002</text>
<line x1="99.98" y1="343.10" x2="99.98" y2="345.30" stroke="#555" stroke-width="0.9" />
<text x="99.98" y="354.00" font-size="8.65" fill="#262626" text-anchor="middle" >2004</text>
<line x1="122.24" y1="343.10" x2="122.24" y2="345.30" stroke="#555" stroke-width="0.9" />
<text x="122.24" y="354.00" font-size="8.65" fill="#262626" text-anchor="middle" >2006</text>
<line x1="144.50" y1="343.10" x2="144.50" y2="345.30" stroke="#555" stroke-width="0.9" />
<text x="144.50" y="354.00" font-size="8.65" fill="#262626" text-anchor="middle" >2008</text>
<line x1="166.76" y1="343.10" x2="166.76" y2="345.30" stroke="#555" stroke-width="0.9" />
<text x="166.76" y="354.00" font-size="8.65" fill="#262626" text-anchor="middle" >2010</text>
<line x1="189.02" y1="343.10" x2="189.02" y2="345.30" stroke="#555" stroke-width="0.9" />
<text x="189.02" y="354.00" font-size="8.65" fill="#262626" text-anchor="middle" >2012</text>
<line x1="211.28" y1="343.10" x2="211.28" y2="345.30" stroke="#555" stroke-width="0.9" />
<text x="211.28" y="354.00" font-size="8.65" fill="#262626" text-anchor="middle" >2014</text>
<line x1="233.54" y1="343.10" x2="233.54" y2="345.30" stroke="#555" stroke-width="0.9" />
<text x="233.54" y="354.00" font-size="8.65" fill="#262626" text-anchor="middle" >2016</text>
<line x1="44.33" y1="343.10" x2="44.33" y2="344.30" stroke="#777" stroke-width="0.7" />
<line x1="66.59" y1="343.10" x2="66.59" y2="344.30" stroke="#777" stroke-width="0.7" />
<line x1="88.85" y1="343.10" x2="88.85" y2="344.30" stroke="#777" stroke-width="0.7" />
<line x1="111.11" y1="343.10" x2="111.11" y2="344.30" stroke="#777" stroke-width="0.7" />
<line x1="133.37" y1="343.10" x2="133.37" y2="344.30" stroke="#777" stroke-width="0.7" />
<line x1="155.63" y1="343.10" x2="155.63" y2="344.30" stroke="#777" stroke-width="0.7" />
<line x1="177.89" y1="343.10" x2="177.89" y2="344.30" stroke="#777" stroke-width="0.7" />
<line x1="200.15" y1="343.10" x2="200.15" y2="344.30" stroke="#777" stroke-width="0.7" />
<line x1="222.41" y1="343.10" x2="222.41" y2="344.30" stroke="#777" stroke-width="0.7" />
<text x="34.20" y="250.90" font-size="10.9" fill="#1a1a1a" text-anchor="start" >(e)</text>
<text x="0.00" y="0.00" font-size="8.8" fill="#222" text-anchor="middle" transform="translate(9.90,297.50) rotate(-90)">Total Precipitation (mm)</text>
<text x="0.00" y="0.00" font-size="8.55" fill="#222" text-anchor="middle" transform="translate(272.80,297.50) rotate(-90)">Total Rainy Days</text>
<text x="38.00" y="262.10" font-size="8.2" fill="#1a1a1a" text-anchor="start" >y= −0.30x +729.83</text>
<text x="38.00" y="277.00" font-size="8.2" fill="#1a1a1a" text-anchor="start" >R<tspan dy="-4.8" font-size="7.9">2</tspan><tspan dy="4.8">=0.133</tspan></text>
<text x="38.00" y="289.00" font-size="8.2" fill="#1a1a1a" text-anchor="start" >P&gt;0.05</text>
<text x="166.60" y="256.90" font-size="8.2" fill="#fa1e22" text-anchor="start" >y=4.88x −9418.20</text>
<text x="166.60" y="272.00" font-size="8.2" fill="#fa1e22" text-anchor="start" >R<tspan dy="-4.8" font-size="7.9">2</tspan><tspan dy="4.8">=0.30</tspan></text>
<text x="166.60" y="283.60" font-size="8.2" fill="#fa1e22" text-anchor="start" >P&lt;0.05</text>
<text x="139.00" y="367.60" font-size="8.3" fill="#1a1a1a" text-anchor="middle" >Years</text>
<rect x="31.3" y="368.5" width="225.3" height="15" fill="#fff" stroke="#8a8a8a" stroke-width="1"/>
<rect x="33.3" y="370.5" width="23.3" height="11.5" fill="#fff" stroke="#7a7a7a" stroke-width="0.9"/>
<text x="59.80" y="379.80" font-size="10.75" fill="#1a1a1a" text-anchor="start" >Total Precipitation</text>
<line x1="148.00" y1="375.80" x2="171.00" y2="375.80" stroke="#f9c0c0" stroke-width="0.8" />
<circle cx="159.6" cy="375.8" r="1.45" fill="#fa1e22"/>
<text x="175.20" y="379.80" font-size="10.75" fill="#1a1a1a" text-anchor="start" >Total Rainy Days</text>
<rect x="303.30" y="14.00" width="71.30" height="29.73" fill="#e9f0f8"/>
<rect x="374.30" y="14.00" width="71.00" height="29.73" fill="#4b3c80"/>
<rect x="445.00" y="14.00" width="71.30" height="29.73" fill="#f4ee14"/>
<rect x="303.30" y="43.43" width="71.30" height="29.73" fill="#4b3c80"/>
<rect x="374.30" y="43.43" width="71.00" height="29.73" fill="#e9f0f8"/>
<rect x="445.00" y="43.43" width="71.30" height="29.73" fill="#1c3ed4"/>
<rect x="303.30" y="72.87" width="71.30" height="29.73" fill="#f4ee14"/>
<rect x="374.30" y="72.87" width="71.00" height="29.73" fill="#1c3ed4"/>
<rect x="445.00" y="72.87" width="71.30" height="29.73" fill="#e9f0f8"/>
<text x="338.80" y="33.82" font-size="14.0" fill="#111" text-anchor="middle" >1</text>
<text x="338.80" y="63.25" font-size="14.0" fill="#fff" text-anchor="middle" >0.41</text>
<text x="338.80" y="92.68" font-size="14.0" fill="#111" text-anchor="middle" >-0.37</text>
<text x="409.65" y="63.25" font-size="14.0" fill="#111" text-anchor="middle" >1</text>
<text x="409.65" y="92.68" font-size="14.0" fill="#fff" text-anchor="middle" >0.32</text>
<text x="480.50" y="92.68" font-size="14.0" fill="#111" text-anchor="middle" >1</text>
<line x1="303.30" y1="14.00" x2="303.30" y2="102.80" stroke="#555" stroke-width="1.0" />
<line x1="303.30" y1="102.30" x2="516.00" y2="102.30" stroke="#777" stroke-width="1.0" />
<text x="304.80" y="11.40" font-size="10.9" fill="#1a1a1a" text-anchor="start" >(b)</text>
<text x="0.00" y="0.00" font-size="8.2" fill="#1a1a1a" text-anchor="start" transform="translate(288.60,35.70) rotate(90)">Year</text>
<text x="0.00" y="0.00" font-size="8.2" fill="#1a1a1a" text-anchor="start" transform="translate(288.60,59.10) rotate(90)">Prcp.</text>
<text x="0.00" y="0.00" font-size="8.2" fill="#1a1a1a" text-anchor="start" transform="translate(288.60,81.00) rotate(90)">Rainy days</text>
<text x="338.80" y="119.80" font-size="10.0" fill="#1a1a1a" text-anchor="middle" >Year</text>
<text x="416.50" y="119.20" font-size="10.0" fill="#1a1a1a" text-anchor="middle" >Prcp.</text>
<text x="495.50" y="118.80" font-size="10.0" fill="#1a1a1a" text-anchor="middle" >Rainy days</text>
<defs><linearGradient id="cb14" x1="0" y1="0" x2="0" y2="1"><stop offset="0.000" stop-color="#d9dfe9"/><stop offset="0.050" stop-color="#e8eef6"/><stop offset="0.090" stop-color="#eac0dc"/><stop offset="0.140" stop-color="#d868bd"/><stop offset="0.190" stop-color="#8a7fcc"/><stop offset="0.250" stop-color="#6a68b0"/><stop offset="0.290" stop-color="#2e2a72"/><stop offset="0.335" stop-color="#1a32d8"/><stop offset="0.380" stop-color="#12e0a8"/><stop offset="0.420" stop-color="#0aa0a8"/><stop offset="0.475" stop-color="#0a6670"/><stop offset="0.525" stop-color="#0f4a48"/><stop offset="0.560" stop-color="#2c6444"/><stop offset="0.600" stop-color="#98cc98"/><stop offset="0.650" stop-color="#8aa070"/><stop offset="0.670" stop-color="#f2f000"/><stop offset="0.725" stop-color="#f8c800"/><stop offset="0.775" stop-color="#f49010"/><stop offset="0.830" stop-color="#b82a3a"/><stop offset="0.880" stop-color="#6a3a3a"/><stop offset="0.930" stop-color="#3e5048"/><stop offset="0.975" stop-color="#2a1a10"/><stop offset="1.000" stop-color="#2a1208"/></linearGradient></defs>
<rect x="518.6" y="16.40" width="8.0" height="81.50" fill="url(#cb14)" stroke="#3a3a3a" stroke-width="0.8"/>
<line x1="526.60" y1="16.40" x2="528.40" y2="16.40" stroke="#888" stroke-width="0.7" />
<text x="532.00" y="19.50" font-size="8.8" fill="#222" text-anchor="start" >1</text>
<line x1="526.60" y1="24.55" x2="528.40" y2="24.55" stroke="#888" stroke-width="0.7" />
<text x="532.00" y="27.65" font-size="8.8" fill="#222" text-anchor="start" >0.8</text>
<line x1="526.60" y1="32.70" x2="528.40" y2="32.70" stroke="#888" stroke-width="0.7" />
<text x="532.00" y="35.80" font-size="8.8" fill="#222" text-anchor="start" >0.6</text>
<line x1="526.60" y1="40.85" x2="528.40" y2="40.85" stroke="#888" stroke-width="0.7" />
<text x="532.00" y="43.95" font-size="8.8" fill="#222" text-anchor="start" >0.4</text>
<line x1="526.60" y1="49.00" x2="528.40" y2="49.00" stroke="#888" stroke-width="0.7" />
<text x="532.00" y="52.10" font-size="8.8" fill="#222" text-anchor="start" >0.2</text>
<line x1="526.60" y1="57.15" x2="528.40" y2="57.15" stroke="#888" stroke-width="0.7" />
<text x="532.00" y="60.25" font-size="8.8" fill="#222" text-anchor="start" >0</text>
<line x1="526.60" y1="65.30" x2="528.40" y2="65.30" stroke="#888" stroke-width="0.7" />
<text x="532.00" y="68.40" font-size="8.8" fill="#222" text-anchor="start" >-0.2</text>
<line x1="526.60" y1="73.45" x2="528.40" y2="73.45" stroke="#888" stroke-width="0.7" />
<text x="532.00" y="76.55" font-size="8.8" fill="#222" text-anchor="start" >-0.4</text>
<line x1="526.60" y1="81.60" x2="528.40" y2="81.60" stroke="#888" stroke-width="0.7" />
<text x="532.00" y="84.70" font-size="8.8" fill="#222" text-anchor="start" >-0.6</text>
<line x1="526.60" y1="89.75" x2="528.40" y2="89.75" stroke="#888" stroke-width="0.7" />
<text x="532.00" y="92.85" font-size="8.8" fill="#222" text-anchor="start" >-0.8</text>
<line x1="526.60" y1="97.90" x2="528.40" y2="97.90" stroke="#888" stroke-width="0.7" />
<text x="532.00" y="101.00" font-size="8.8" fill="#222" text-anchor="start" >-1</text>
<rect x="303.30" y="134.20" width="71.30" height="29.73" fill="#e9f0f8"/>
<rect x="374.30" y="134.20" width="71.00" height="29.73" fill="#2b6048"/>
<rect x="445.00" y="134.20" width="71.30" height="29.73" fill="#9fd09c"/>
<rect x="303.30" y="163.63" width="71.30" height="29.73" fill="#2b6048"/>
<rect x="374.30" y="163.63" width="71.00" height="29.73" fill="#e9f0f8"/>
<rect x="445.00" y="163.63" width="71.30" height="29.73" fill="#e590d4"/>
<rect x="303.30" y="193.07" width="71.30" height="29.73" fill="#9fd09c"/>
<rect x="374.30" y="193.07" width="71.00" height="29.73" fill="#e590d4"/>
<rect x="445.00" y="193.07" width="71.30" height="29.73" fill="#e9f0f8"/>
<text x="338.80" y="154.02" font-size="14.0" fill="#111" text-anchor="middle" >1</text>
<text x="338.80" y="183.45" font-size="14.0" fill="#fff" text-anchor="middle" >-0.14</text>
<text x="338.80" y="212.88" font-size="14.0" fill="#111" text-anchor="middle" >-0.17</text>
<text x="409.65" y="183.45" font-size="14.0" fill="#111" text-anchor="middle" >1</text>
<text x="409.65" y="212.88" font-size="14.0" fill="#111" text-anchor="middle" >0.7</text>
<text x="480.50" y="212.88" font-size="14.0" fill="#111" text-anchor="middle" >1</text>
<line x1="303.30" y1="134.20" x2="303.30" y2="223.00" stroke="#555" stroke-width="1.0" />
<line x1="303.30" y1="222.50" x2="516.00" y2="222.50" stroke="#777" stroke-width="1.0" />
<text x="307.30" y="131.70" font-size="10.9" fill="#1a1a1a" text-anchor="start" >(d)</text>
<text x="0.00" y="0.00" font-size="8.4" fill="#1a1a1a" text-anchor="start" transform="translate(291.60,154.20) rotate(90)">Year</text>
<text x="0.00" y="0.00" font-size="8.4" fill="#1a1a1a" text-anchor="start" transform="translate(291.60,178.00) rotate(90)">Prcp.</text>
<text x="0.00" y="0.00" font-size="8.4" fill="#1a1a1a" text-anchor="start" transform="translate(291.60,200.70) rotate(90)">Rainy days</text>
<text x="333.50" y="241.80" font-size="10.0" fill="#1a1a1a" text-anchor="middle" >Year</text>
<text x="411.20" y="241.20" font-size="10.0" fill="#1a1a1a" text-anchor="middle" >Prcp.</text>
<text x="490.20" y="240.80" font-size="10.0" fill="#1a1a1a" text-anchor="middle" >Rainy days</text>
<defs><linearGradient id="cb134" x1="0" y1="0" x2="0" y2="1"><stop offset="0.000" stop-color="#d9dfe9"/><stop offset="0.050" stop-color="#e8eef6"/><stop offset="0.090" stop-color="#eac0dc"/><stop offset="0.140" stop-color="#d868bd"/><stop offset="0.190" stop-color="#8a7fcc"/><stop offset="0.250" stop-color="#6a68b0"/><stop offset="0.290" stop-color="#2e2a72"/><stop offset="0.335" stop-color="#1a32d8"/><stop offset="0.380" stop-color="#12e0a8"/><stop offset="0.420" stop-color="#0aa0a8"/><stop offset="0.475" stop-color="#0a6670"/><stop offset="0.525" stop-color="#0f4a48"/><stop offset="0.560" stop-color="#2c6444"/><stop offset="0.600" stop-color="#98cc98"/><stop offset="0.650" stop-color="#8aa070"/><stop offset="0.670" stop-color="#f2f000"/><stop offset="0.725" stop-color="#f8c800"/><stop offset="0.775" stop-color="#f49010"/><stop offset="0.830" stop-color="#b82a3a"/><stop offset="0.880" stop-color="#6a3a3a"/><stop offset="0.930" stop-color="#3e5048"/><stop offset="0.975" stop-color="#2a1a10"/><stop offset="1.000" stop-color="#2a1208"/></linearGradient></defs>
<rect x="518.6" y="137.30" width="8.0" height="81.20" fill="url(#cb134)" stroke="#3a3a3a" stroke-width="0.8"/>
<line x1="526.60" y1="137.30" x2="528.40" y2="137.30" stroke="#888" stroke-width="0.7" />
<text x="532.00" y="140.40" font-size="8.8" fill="#222" text-anchor="start" >1</text>
<line x1="526.60" y1="145.42" x2="528.40" y2="145.42" stroke="#888" stroke-width="0.7" />
<text x="532.00" y="148.52" font-size="8.8" fill="#222" text-anchor="start" >0.8</text>
<line x1="526.60" y1="153.54" x2="528.40" y2="153.54" stroke="#888" stroke-width="0.7" />
<text x="532.00" y="156.64" font-size="8.8" fill="#222" text-anchor="start" >0.6</text>
<line x1="526.60" y1="161.66" x2="528.40" y2="161.66" stroke="#888" stroke-width="0.7" />
<text x="532.00" y="164.76" font-size="8.8" fill="#222" text-anchor="start" >0.4</text>
<line x1="526.60" y1="169.78" x2="528.40" y2="169.78" stroke="#888" stroke-width="0.7" />
<text x="532.00" y="172.88" font-size="8.8" fill="#222" text-anchor="start" >0.2</text>
<line x1="526.60" y1="177.90" x2="528.40" y2="177.90" stroke="#888" stroke-width="0.7" />
<text x="532.00" y="181.00" font-size="8.8" fill="#222" text-anchor="start" >0</text>
<line x1="526.60" y1="186.02" x2="528.40" y2="186.02" stroke="#888" stroke-width="0.7" />
<text x="532.00" y="189.12" font-size="8.8" fill="#222" text-anchor="start" >-0.2</text>
<line x1="526.60" y1="194.14" x2="528.40" y2="194.14" stroke="#888" stroke-width="0.7" />
<text x="532.00" y="197.24" font-size="8.8" fill="#222" text-anchor="start" >-0.4</text>
<line x1="526.60" y1="202.26" x2="528.40" y2="202.26" stroke="#888" stroke-width="0.7" />
<text x="532.00" y="205.36" font-size="8.8" fill="#222" text-anchor="start" >-0.6</text>
<line x1="526.60" y1="210.38" x2="528.40" y2="210.38" stroke="#888" stroke-width="0.7" />
<text x="532.00" y="213.48" font-size="8.8" fill="#222" text-anchor="start" >-0.8</text>
<line x1="526.60" y1="218.50" x2="528.40" y2="218.50" stroke="#888" stroke-width="0.7" />
<text x="532.00" y="221.60" font-size="8.8" fill="#222" text-anchor="start" >-1</text>
<rect x="303.30" y="255.00" width="71.30" height="29.57" fill="#e9f0f8"/>
<rect x="374.30" y="255.00" width="71.00" height="29.57" fill="#7276c0"/>
<rect x="445.00" y="255.00" width="71.30" height="29.57" fill="#9fd29c"/>
<rect x="303.30" y="284.27" width="71.30" height="29.57" fill="#7276c0"/>
<rect x="374.30" y="284.27" width="71.00" height="29.57" fill="#e9f0f8"/>
<rect x="445.00" y="284.27" width="71.30" height="29.57" fill="#3a3aa0"/>
<rect x="303.30" y="313.53" width="71.30" height="29.57" fill="#9fd29c"/>
<rect x="374.30" y="313.53" width="71.00" height="29.57" fill="#3a3aa0"/>
<rect x="445.00" y="313.53" width="71.30" height="29.57" fill="#e9f0f8"/>
<text x="338.80" y="274.73" font-size="14.0" fill="#111" text-anchor="middle" >1</text>
<text x="338.80" y="304.00" font-size="14.0" fill="#111" text-anchor="middle" >0.54</text>
<text x="338.80" y="333.27" font-size="14.0" fill="#111" text-anchor="middle" >-0.23</text>
<text x="409.65" y="304.00" font-size="14.0" fill="#111" text-anchor="middle" >1</text>
<text x="409.65" y="333.27" font-size="14.0" fill="#fff" text-anchor="middle" >0.39</text>
<text x="480.50" y="333.27" font-size="14.0" fill="#111" text-anchor="middle" >1</text>
<line x1="303.30" y1="255.00" x2="303.30" y2="343.30" stroke="#555" stroke-width="1.0" />
<line x1="303.30" y1="342.80" x2="516.00" y2="342.80" stroke="#777" stroke-width="1.0" />
<text x="306.00" y="249.90" font-size="10.9" fill="#1a1a1a" text-anchor="start" >(f)</text>
<text x="0.00" y="0.00" font-size="8.4" fill="#1a1a1a" text-anchor="start" transform="translate(291.40,267.10) rotate(90)">Year</text>
<text x="0.00" y="0.00" font-size="8.4" fill="#1a1a1a" text-anchor="start" transform="translate(291.40,296.20) rotate(90)">Prcp.</text>
<text x="0.00" y="0.00" font-size="8.4" fill="#1a1a1a" text-anchor="start" transform="translate(291.40,322.80) rotate(90)">Rainy days</text>
<text x="336.80" y="363.60" font-size="10.0" fill="#1a1a1a" text-anchor="middle" >Year</text>
<text x="414.50" y="363.00" font-size="10.0" fill="#1a1a1a" text-anchor="middle" >Prcp.</text>
<text x="493.50" y="362.60" font-size="10.0" fill="#1a1a1a" text-anchor="middle" >Rainy days</text>
<defs><linearGradient id="cb255" x1="0" y1="0" x2="0" y2="1"><stop offset="0.000" stop-color="#d9dfe9"/><stop offset="0.050" stop-color="#e8eef6"/><stop offset="0.090" stop-color="#eac0dc"/><stop offset="0.140" stop-color="#d868bd"/><stop offset="0.190" stop-color="#8a7fcc"/><stop offset="0.250" stop-color="#6a68b0"/><stop offset="0.290" stop-color="#2e2a72"/><stop offset="0.335" stop-color="#1a32d8"/><stop offset="0.380" stop-color="#12e0a8"/><stop offset="0.420" stop-color="#0aa0a8"/><stop offset="0.475" stop-color="#0a6670"/><stop offset="0.525" stop-color="#0f4a48"/><stop offset="0.560" stop-color="#2c6444"/><stop offset="0.600" stop-color="#98cc98"/><stop offset="0.650" stop-color="#8aa070"/><stop offset="0.670" stop-color="#f2f000"/><stop offset="0.725" stop-color="#f8c800"/><stop offset="0.775" stop-color="#f49010"/><stop offset="0.830" stop-color="#b82a3a"/><stop offset="0.880" stop-color="#6a3a3a"/><stop offset="0.930" stop-color="#3e5048"/><stop offset="0.975" stop-color="#2a1a10"/><stop offset="1.000" stop-color="#2a1208"/></linearGradient></defs>
<rect x="518.6" y="257.30" width="8.0" height="81.50" fill="url(#cb255)" stroke="#3a3a3a" stroke-width="0.8"/>
<line x1="526.60" y1="257.30" x2="528.40" y2="257.30" stroke="#888" stroke-width="0.7" />
<text x="532.00" y="260.40" font-size="8.8" fill="#222" text-anchor="start" >1</text>
<line x1="526.60" y1="265.45" x2="528.40" y2="265.45" stroke="#888" stroke-width="0.7" />
<text x="532.00" y="268.55" font-size="8.8" fill="#222" text-anchor="start" >0.8</text>
<line x1="526.60" y1="273.60" x2="528.40" y2="273.60" stroke="#888" stroke-width="0.7" />
<text x="532.00" y="276.70" font-size="8.8" fill="#222" text-anchor="start" >0.6</text>
<line x1="526.60" y1="281.75" x2="528.40" y2="281.75" stroke="#888" stroke-width="0.7" />
<text x="532.00" y="284.85" font-size="8.8" fill="#222" text-anchor="start" >0.4</text>
<line x1="526.60" y1="289.90" x2="528.40" y2="289.90" stroke="#888" stroke-width="0.7" />
<text x="532.00" y="293.00" font-size="8.8" fill="#222" text-anchor="start" >0.2</text>
<line x1="526.60" y1="298.05" x2="528.40" y2="298.05" stroke="#888" stroke-width="0.7" />
<text x="532.00" y="301.15" font-size="8.8" fill="#222" text-anchor="start" >0</text>
<line x1="526.60" y1="306.20" x2="528.40" y2="306.20" stroke="#888" stroke-width="0.7" />
<text x="532.00" y="309.30" font-size="8.8" fill="#222" text-anchor="start" >-0.2</text>
<line x1="526.60" y1="314.35" x2="528.40" y2="314.35" stroke="#888" stroke-width="0.7" />
<text x="532.00" y="317.45" font-size="8.8" fill="#222" text-anchor="start" >-0.4</text>
<line x1="526.60" y1="322.50" x2="528.40" y2="322.50" stroke="#888" stroke-width="0.7" />
<text x="532.00" y="325.60" font-size="8.8" fill="#222" text-anchor="start" >-0.6</text>
<line x1="526.60" y1="330.65" x2="528.40" y2="330.65" stroke="#888" stroke-width="0.7" />
<text x="532.00" y="333.75" font-size="8.8" fill="#222" text-anchor="start" >-0.8</text>
<line x1="526.60" y1="338.80" x2="528.40" y2="338.80" stroke="#888" stroke-width="0.7" />
<text x="532.00" y="341.90" font-size="8.8" fill="#222" text-anchor="start" >-1</text>
</svg>
</body></html>
